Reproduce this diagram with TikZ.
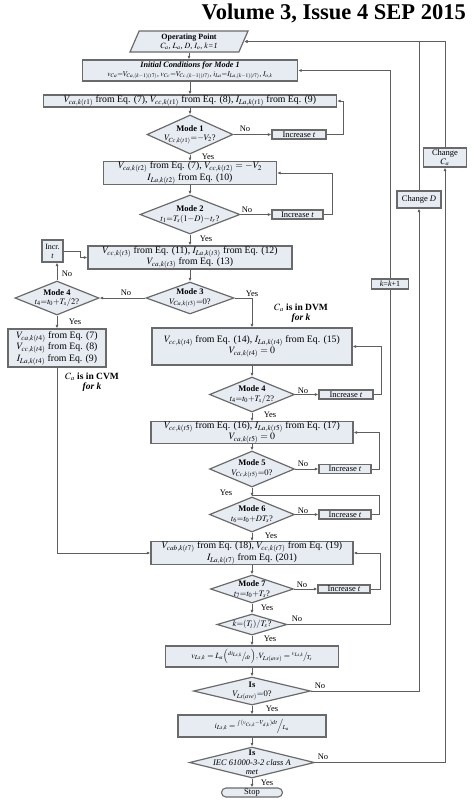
\documentclass[tikz,border=0pt]{standalone}
\usepackage{mathptmx}
\usepackage{fontspec}
\setmainfont{Liberation Serif}
\usetikzlibrary{shapes.geometric,arrows.meta}
\definecolor{bfill}{HTML}{E7ECF3}
\definecolor{bdraw}{HTML}{6A6A6A}
\definecolor{lcol}{HTML}{5E5E5E}
\begin{document}
\begin{tikzpicture}[x=1pt,y=-1pt,
 box/.style={rectangle,draw=bdraw,fill=bfill,line width=1.2pt,inner sep=0pt,align=center,font=\fontsize{9.8}{10.5}\selectfont},
 dec/.style={diamond,draw=bdraw,fill=bfill,line width=1.2pt,inner sep=0pt},
 dtext/.style={align=center,inner sep=0pt,font=\fontsize{8.5}{9.5}\selectfont},
 inc/.style={rectangle,draw=bdraw,fill=bfill,line width=1.1pt,inner sep=0pt,font=\fontsize{8.5}{8.5}\selectfont},
 lab/.style={inner sep=0pt,font=\fontsize{8.5}{8.5}\selectfont},
 note/.style={inner sep=0pt,align=center,font=\bfseries\fontsize{9.5}{10.5}\selectfont},
 conn/.style={draw=lcol,line width=0.9pt},
 arr/.style={conn,-{Latex[length=3.5pt,width=3pt]}},
]
\useasboundingbox (0,0) rectangle (474,804);
\node[font=\bfseries\fontsize{22.5}{22.5}\selectfont, anchor=base east, inner sep=0pt] (title) at (466,19) {Volume 3, Issue 4 SEP 2015};

% top column
\node[trapezium, trapezium left angle=60, trapezium right angle=120, trapezium stretches body, draw=bdraw, fill=bfill, line width=1.2pt, minimum width=118pt, minimum height=21pt, inner sep=0pt, align=center, font=\fontsize{8}{9}\selectfont] (op) at (189,41.5) {\textbf{Operating Point}\\ \textit{$C_a$, $L_a$, $D$, $I_o$, $k$=1}};
\node[box,minimum width=215pt,minimum height=21pt,font=\fontsize{7.3}{9}\selectfont] (init) at (190,70.5) {{\fontsize{8.2}{9}\selectfont\textbf{\textit{Initial Conditions for Mode 1}}}\\ $v_{Ca}{=}V_{Ca,(k-1)(t7)}$, $v_{Cc}{=}V_{Cc,(k-1)(t7)}$, $i_{La}{=}I_{La,(k-1)(t7)}$, $I_{o,k}$};
\node[box,minimum width=293pt,minimum height=12pt] (b1) at (190,101) {$V_{ca,k(t1)}$ from Eq. (7), $V_{cc,k(t1)}$ from Eq. (8), $I_{La,k(t1)}$ from Eq. (9)};
\node[dec,minimum width=86pt,minimum height=39pt] (d1) at (190,134.5) {};
\node[dtext] (d1t) at (d1) {\textbf{Mode 1}\\ $V_{Cc,k(t1)}{=}{-}V_2$?};
\node[inc,minimum width=54pt,minimum height=9pt] (inc1) at (299,134.5) {Increase \textit{t}};
\node[box,minimum width=173pt,minimum height=22pt] (b2) at (190,173) {$V_{ca,k(t2)}$ from Eq. (7), $V_{cc,k(t2)} = -V_2$\\ $I_{La,k(t2)}$ from Eq. (10)};
\node[dec,minimum width=100pt,minimum height=39pt] (d2) at (190,214.5) {};
\node[dtext] (d2t) at (d2) {\textbf{Mode 2}\\ $t_1{=}T_s(1{-}D){-}t_r$?};
\node[inc,minimum width=51pt,minimum height=9pt] (inc2) at (297.5,214.5) {Increase \textit{t}};
\node[box,minimum width=204pt,minimum height=23pt] (b3) at (190,257.5) {$V_{cc,k(t3)}$ from Eq. (11), $I_{La,k(t3)}$ from Eq. (12)\\ $V_{ca,k(t3)}$ from Eq. (13)};
\node[inc,minimum width=21pt,minimum height=22pt,align=center,font=\fontsize{8}{9}\selectfont] (incr) at (52.5,251) {Incr.\\ \textit{t}};
\node[dec,minimum width=88pt,minimum height=32pt] (d3) at (190,298) {};
\node[dtext] (d3t) at (d3) {\textbf{Mode 3}\\ $V_{Ca,k(t3)}{=}0$?};
\node[dec,minimum width=84pt,minimum height=34pt] (d4l) at (57,298) {};
\node[dtext] (d4lt) at (d4l) {\textbf{Mode 4}\\ $t_4{=}t_0{+}T_s/2$?};
\node[box,minimum width=98pt,minimum height=38pt,font=\fontsize{9.8}{11.5}\selectfont] (bcvm) at (57,348) {$V_{ca,k(t4)}$ from Eq. (7)\\ $V_{cc,k(t4)}$ from Eq. (8)\\ $I_{La,k(t4)}$ from Eq. (9)};
\node[note] (cvm) at (92,382) {$C_a$ is in CVM\\ \textit{for} \textit{k}};

% lower column
\node[note] (dvm) at (301,313) {$C_a$ is in DVM\\ \textit{for k}};
\node[box,minimum width=200pt,minimum height=37pt] (b4) at (252,346.5) {$V_{cc,k(t4)}$ from Eq. (14), $I_{La,k(t4)}$ from Eq. (15)\\ $V_{ca,k(t4)} = 0$};
\node[dec,minimum width=85pt,minimum height=35pt] (d4) at (252,394.5) {};
\node[dtext] (d4t) at (d4) {\textbf{Mode 4}\\ $t_4{=}t_0{+}T_s/2$?};
\node[inc,minimum width=54pt,minimum height=9pt] (inc4) at (346,394.5) {Increase \textit{t}};
\node[box,minimum width=202pt,minimum height=21pt] (b5) at (252,432.5) {$V_{cc,k(t5)}$ from Eq. (16), $I_{La,k(t5)}$ from Eq. (17)\\ $V_{ca,k(t5)} = 0$};
\node[dec,minimum width=85pt,minimum height=36pt] (d5) at (252,469) {};
\node[dtext] (d5t) at (d5) {\textbf{Mode 5}\\ $V_{Cc,k(t5)}{=}0$?};
\node[inc,minimum width=52pt,minimum height=9pt] (inc5) at (345,469) {Increase \textit{t}};
\node[dec,minimum width=85pt,minimum height=35pt] (d6) at (252,514.5) {};
\node[dtext] (d6t) at (d6) {\textbf{Mode 6}\\ $t_6{=}t_0{+}DT_s$?};
\node[inc,minimum width=52pt,minimum height=9pt] (inc6) at (345,514.5) {Increase \textit{t}};
\coordinate (j6) at (252,495);
\node[box,minimum width=202pt,minimum height=20pt] (b7) at (252,553) {$V_{cab,k(t7)}$ from Eq. (18), $V_{cc,k(t7)}$ from Eq. (19)\\ $I_{La,k(t7)}$ from Eq. (201)};
\node[dec,minimum width=83pt,minimum height=28pt] (d7) at (252,589) {};
\node[dtext] (d7t) at (d7) {\textbf{Mode 7}\\ $t_7{=}t_0{+}T_s$?};
\node[inc,minimum width=52pt,minimum height=8pt] (inc7) at (344,589) {Increase \textit{t}};
\node[dec,minimum width=70pt,minimum height=21pt] (dk) at (252,624.5) {};
\node[dtext] (dkt) at (dk) {$k{=}(T_l)/T_s$?};
\node[box,minimum width=173pt,minimum height=21pt,font=\fontsize{8}{9}\selectfont] (bv) at (252,656.5) {$v_{Ls,k}=L_a\Bigl({}^{di_{Ls,k}}\!\big/\!{}_{dt}\Bigr), V_{Ls(ave)}={}^{v_{Ls,k}}\!\big/\!{}_{T_s}$};
\node[dec,minimum width=117pt,minimum height=28pt] (dls) at (252,691) {};
\node[dtext] (dlst) at (dls) {\textbf{Is}\\ $V_{Ls(ave)}{=}0$?};
\node[box,minimum width=148pt,minimum height=22pt,font=\fontsize{8}{9}\selectfont] (bi) at (252,726) {$i_{Ls,k}={}^{\int(v_{Cs,k}-V_{d,k})dt}\!\Big/\!{}_{L_a}$};
\node[dec,minimum width=125pt,minimum height=31pt] (diec) at (252,762.5) {};
\node[dtext] (diect) at (diec) {\textbf{Is}\\ \textit{IEC 61000-3-2 class A}\\ \textit{met}};
\node[inc,rounded corners=4.5pt,minimum width=61pt,minimum height=9pt] (stop) at (252,792.5) {Stop};

% right side
\node[inc,minimum width=37pt,minimum height=10pt,font=\fontsize{8}{8}\selectfont] (kk) at (390,284) {\textit{k}=\textit{k}+1};
\node[inc,minimum width=44pt,minimum height=17pt] (chD) at (419,199.5) {Change \textit{D}};
\node[inc,minimum width=43pt,minimum height=19pt,align=center,font=\fontsize{8.5}{9}\selectfont] (chC) at (445,157.5) {Change\\ $C_a$};

% connectors
\draw[arr] (op.south) -- (op.south |- init.north);
\draw[arr] (init) -- (b1);
\draw[arr] (b1) -- (d1);
\draw[arr] (d1) -- (inc1);
\draw[arr] (inc1.east) -- ++(17,0) |- (b1.east);
\draw[arr] (d1) -- (b2);
\draw[arr] (b2) -- (d2);
\draw[arr] (d2) -- (inc2);
\draw[arr] (inc2.east) -- ++(9,0) |- (b2.east);
\draw[arr] (d2) -- (b3);
\draw[arr] (b3) -- (d3);
\draw[arr] (d3) -- (d4l);
\draw[arr] (d3.east) -| (b4.north);
\draw[arr] (d4l.north) -- (d4l.north |- incr.south);
\draw[arr] (incr.east) -- ++(17,0) |- (b3.west);
\draw[arr] (d4l) -- (bcvm);
\draw[arr] (bcvm.south) |- (b7.west);
\draw[arr] (b4) -- (d4);
\draw[arr] (d4) -- (inc4);
\draw[arr] (inc4.east) -- ++(8,0) |- (b4.east);
\draw[arr] (d4) -- (b5);
\draw[arr] (b5) -- (d5);
\draw[arr] (d5) -- (inc5);
\draw[arr] (inc5.east) -- ++(8,0) |- (b5.east);
\draw[arr] (d5) -- (d6);
\draw[arr] (d6) -- (inc6);
\draw[conn] (inc6.east) -- ++(8,0) |- (j6);
\draw[arr] (d6) -- (b7);
\draw[arr] (b7) -- (d7);
\draw[arr] (d7) -- (inc7);
\draw[arr] (inc7.east) -- ++(10,0) |- (b7.east);
\draw[arr] (d7) -- (dk);
\draw[conn] (dk.east) -| (kk.south);
\draw[arr] (kk.north) |- (init.east);
\draw[arr] (dk) -- (bv);
\draw[arr] (bv) -- (dls);
\draw[arr] (dls.east) -| (chD.south);
\draw[arr] (chD.north) |- (op.east);
\draw[arr] (dls) -- (bi);
\draw[arr] (bi) -- (diec);
\draw[arr] (diec.east) -| (chC.south);
\draw[arr] (chC.north) |- (op.east);
\draw[arr] (diec) -- (stop);

% labels
\node[lab] (n1) at (245,129) {No};
\node[lab] (y1) at (208,156.5) {Yes};
\node[lab] (n2) at (247,210) {No};
\node[lab] (y2) at (206,239) {Yes};
\node[lab] (n3) at (126,293) {No};
\node[lab] (y3) at (252,294) {Yes};
\node[lab] (n4l) at (67,274) {No};
\node[lab] (y4l) at (75,322) {Yes};
\node[lab] (n4) at (303,391) {No};
\node[lab] (y4) at (270,415) {Yes};
\node[lab] (n5) at (303,464) {No};
\node[lab] (y5) at (226,493) {Yes};
\node[lab] (n6) at (303,511) {No};
\node[lab] (y6) at (271,536) {Yes};
\node[lab] (n7) at (302,585) {No};
\node[lab] (y7) at (267,608) {Yes};
\node[lab] (nk) at (297,619) {No};
\node[lab] (yk) at (270,639) {Yes};
\node[lab] (nls) at (320,686) {No};
\node[lab] (yls) at (272,709) {Yes};
\node[lab] (niec) at (323,757) {No};
\node[lab] (yiec) at (267,783) {Yes};
\end{tikzpicture}
\end{document}
